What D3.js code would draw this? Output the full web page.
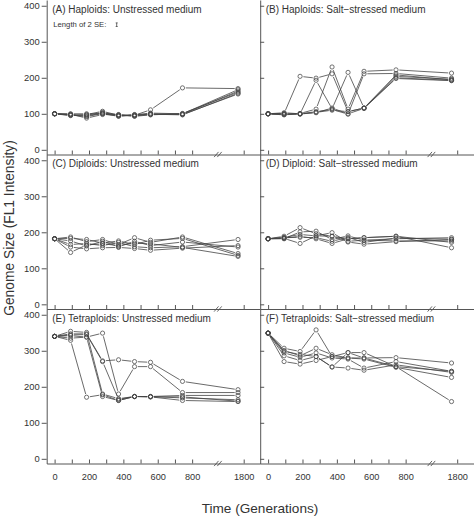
<!DOCTYPE html>
<html>
<head>
<meta http-equiv="Content-type" content="text/html; charset=utf-8">
<title>Genome size over time</title>
<script src="https://d3js.org/d3.v7.min.js"></script>
<style>
  body { margin: 0; background: #fff; }
  text { font-family: Arial, "Liberation Sans", Helvetica, sans-serif; fill: #333; }
</style>
</head>
<body>
<script type="text/javascript">

  // sampling times (generations) and axis ticks
  var generations = [0, 93, 186, 279, 372, 465, 558, 744, 1767];
  var tickGens = [0, 100, 200, 300, 400, 500, 600, 700, 800, 1800];
  var labelGens = [0, 200, 400, 600, 800, 1800];
  var yTicks = [0, 100, 200, 300, 400];
  var seLength = 10;   // length of 2 SE, FL1 units

  var panelTitles = [
    "(A) Haploids: Unstressed medium",
    "(B) Haploids: Salt\u2212stressed medium",
    "(C) Diploids: Unstressed medium",
    "(D) Diploid: Salt\u2212stressed medium",
    "(E) Tetraploids: Unstressed medium",
    "(F) Tetraploids: Salt\u2212stressed medium"
  ];

  // one row per replicate line, one value per sampling time
  var haploidUnstressed = [
    [100, 98, 96, 104, 95, 96, 111, 172, 170],
    [100, 97, 92, 101, 94, 95, 100, 99, 163],
    [100, 99, 88, 98, 97, 94, 98, 98, 155],
    [100, 95, 98, 107, 96, 97, 102, 100, 167],
    [100, 100, 100, 100, 93, 98, 99, 97, 157],
    [100, 96, 94, 102, 98, 93, 97, 101, 160]
  ];
  var haploidSalt = [
    [100, 101, 204, 199, 211, 106, 116, 204, 196],
    [100, 99, 100, 193, 114, 215, 116, 208, 194],
    [100, 98, 101, 113, 230, 113, 218, 222, 213],
    [100, 103, 100, 106, 112, 99, 211, 212, 199],
    [100, 100, 99, 104, 110, 106, 116, 200, 193],
    [100, 97, 100, 103, 116, 100, 115, 198, 192]
  ];
  var diploidUnstressed = [
    [182, 187, 174, 180, 166, 185, 172, 187, 141],
    [182, 183, 180, 170, 176, 166, 178, 183, 136],
    [182, 176, 162, 175, 160, 175, 163, 173, 159],
    [182, 166, 169, 163, 172, 160, 157, 160, 180],
    [182, 159, 154, 157, 158, 155, 150, 156, 163],
    [182, 144, 165, 168, 163, 170, 168, 158, 133]
  ];
  var diploidSalt = [
    [182, 189, 213, 196, 189, 182, 185, 189, 172],
    [182, 182, 201, 203, 180, 190, 178, 182, 185],
    [182, 186, 194, 190, 199, 173, 167, 174, 180],
    [182, 184, 189, 182, 169, 182, 185, 189, 157],
    [182, 183, 169, 190, 189, 175, 178, 176, 176],
    [182, 185, 186, 185, 175, 186, 172, 184, 181]
  ];
  var tetraploidUnstressed = [
    [340, 329, 171, 178, 162, 173, 173, 169, 164],
    [340, 354, 351, 180, 167, 173, 172, 162, 159],
    [340, 347, 347, 272, 275, 270, 268, 215, 192],
    [340, 342, 338, 349, 180, 256, 256, 184, 184],
    [340, 335, 338, 173, 162, 173, 173, 176, 176],
    [340, 344, 345, 270, 165, 173, 172, 172, 160]
  ];
  var tetraploidSalt = [
    [349, 307, 298, 358, 284, 295, 295, 256, 159],
    [349, 301, 286, 307, 289, 280, 280, 281, 266],
    [349, 294, 282, 294, 280, 277, 252, 270, 243],
    [349, 286, 273, 284, 255, 252, 246, 261, 240],
    [349, 270, 263, 273, 284, 280, 277, 254, 226],
    [349, 298, 290, 284, 255, 295, 280, 256, 243]
  ];

  var panelData = [haploidUnstressed, haploidSalt, diploidUnstressed,
                   diploidSalt, tetraploidUnstressed, tetraploidSalt];

  // layout
  var width = 474, height = 517;
  var colLeft = [46.7, 260.2], colWidth = 213.5;
  var rowTop = [0, 154.5, 309], rowHeight = 154.5;
  var breakFrom = 950, breakTo = 1650;   // axis jumps from 950 straight to 1650
  var ink = "#444", axisInk = "#555";
  var gap = 3.3;   // R type="b" style gap round the points

  var svg;

  function xScaleFor(col) {
    var x0 = colLeft[col], x1 = x0 + colWidth;
    var flat = d3.scaleLinear().domain([-46, 1196]).range([x0, x1]);
    var xb = flat(breakFrom);
    return d3.scaleLinear()
      .domain([-46, breakFrom, breakTo, 1896])
      .range([x0, xb, xb, x1]);
  }

  function yScaleFor(row) {
    return d3.scaleLinear().domain([-13, 416]).range([rowTop[row] + rowHeight, rowTop[row]]);
  }

  function init() {
    svg = d3.select("body").append("svg")
      .attr("width", width).attr("height", height);

    for (var i = 0; i < panelData.length; i++) {
      drawPanel(i);
    }

    // axis titles
    svg.append("text")
      .attr("transform", "translate(13.5,228) rotate(-90)")
      .attr("text-anchor", "middle")
      .style("font-size", "13.8px")
      .text("Genome Size (FL1 Intensity)");

    svg.append("text")
      .attr("x", 260).attr("y", 513)
      .attr("text-anchor", "middle")
      .style("font-size", "13.6px")
      .text("Time (Generations)");
  }

  function drawPanel(i) {
    var col = i % 2, row = Math.floor(i / 2);
    var x = xScaleFor(col), y = yScaleFor(row);
    var bottom = rowTop[row] + rowHeight;
    var g = svg.append("g");

    // y axis
    var yAxis = col == 0
      ? d3.axisLeft(y).tickValues(yTicks).tickSize(5).tickSizeOuter(0).tickPadding(2)
      : d3.axisRight(y).tickValues(yTicks).tickSize(4).tickSizeOuter(0).tickFormat("");
    var ya = g.append("g")
      .attr("transform", "translate(" + colLeft[col] + ",0)")
      .attr("color", axisInk)
      .call(yAxis);
    ya.selectAll("text").style("font-size", "9.4px").style("font-family", null);

    // x axis, ticks point into the panel
    g.append("g")
      .attr("transform", "translate(0," + bottom + ")")
      .attr("color", axisInk)
      .call(d3.axisTop(x).tickValues(tickGens).tickSize(4).tickSizeOuter(0).tickFormat(""));

    if (row == 2) {
      var xl = g.append("g")
        .attr("transform", "translate(0," + bottom + ")")
        .call(d3.axisBottom(x).tickValues(labelGens).tickSize(0).tickPadding(10)
          .tickFormat(d3.format("d")));
      xl.select(".domain").remove();
      xl.selectAll("text").style("font-size", "9.2px").style("font-family", null);
    }

    // break marks on the x axis
    var xb = x(breakFrom);
    [-1.6, 1.6].forEach(function(off) {
      g.append("line")
        .attr("x1", xb + off - 2.2).attr("y1", bottom + 2.6)
        .attr("x2", xb + off + 2.2).attr("y2", bottom - 2.6)
        .attr("stroke", axisInk).attr("stroke-width", 0.9);
    });

    // title
    g.append("text")
      .attr("x", colLeft[col] + 5.5).attr("y", rowTop[row] + 12.5)
      .style("font-size", "10px")
      .text(panelTitles[i]);

    if (i == 0) {
      g.append("text")
        .attr("x", colLeft[col] + 6.6).attr("y", rowTop[row] + 27)
        .style("font-size", "7.7px")
        .text("Length of 2 SE:");
      var seX = colLeft[col] + 70, seY = rowTop[row] + 24.7;
      var half = (y(0) - y(seLength)) / 2;
      g.append("path")
        .attr("d", "M" + (seX - 1) + "," + (seY - half) + "H" + (seX + 1) +
                   "M" + seX + "," + (seY - half) + "V" + (seY + half) +
                   "M" + (seX - 1) + "," + (seY + half) + "H" + (seX + 1))
        .attr("stroke", ink).attr("stroke-width", 0.8).attr("fill", "none");
    }

    // series: segments with gaps, then open circles
    var segs = [], pts = [];
    panelData[i].forEach(function(series) {
      for (var k = 0; k < series.length; k++) {
        pts.push({ x: x(generations[k]), y: y(series[k]) });
        if (k > 0) {
          var ax = x(generations[k - 1]), ay = y(series[k - 1]);
          var bx = x(generations[k]), by = y(series[k]);
          var dx = bx - ax, dy = by - ay, d = Math.sqrt(dx * dx + dy * dy);
          if (d > 2 * gap + 0.5) {
            segs.push({ x1: ax + dx / d * gap, y1: ay + dy / d * gap,
                        x2: bx - dx / d * gap, y2: by - dy / d * gap });
          }
        }
      }
    });

    g.selectAll("line.seg").data(segs).enter().append("line")
      .attr("class", "seg")
      .attr("x1", function(d) { return d.x1; }).attr("y1", function(d) { return d.y1; })
      .attr("x2", function(d) { return d.x2; }).attr("y2", function(d) { return d.y2; })
      .attr("stroke", ink).attr("stroke-width", 0.8);

    g.selectAll("circle").data(pts).enter().append("circle")
      .attr("cx", function(d) { return d.x; })
      .attr("cy", function(d) { return d.y; })
      .attr("r", 2.1)
      .attr("fill", "none")
      .attr("stroke", ink).attr("stroke-width", 0.75);
  }

  init();

</script>
</body>
</html>
